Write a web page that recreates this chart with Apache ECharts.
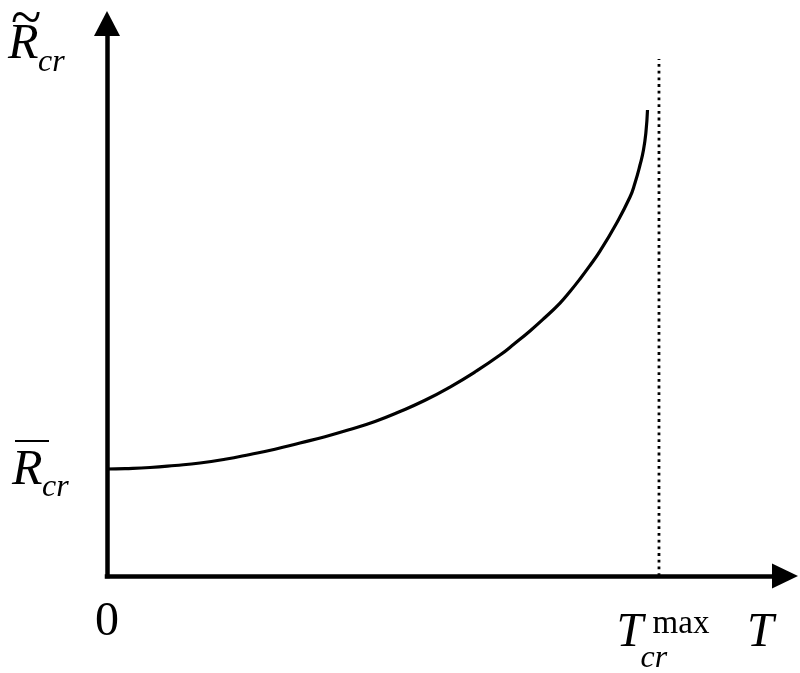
<!DOCTYPE html>
<html>
<head>
<meta charset="utf-8">
<script src="https://cdn.jsdelivr.net/npm/echarts@6/dist/echarts.min.js"></script>
<style>
html,body{margin:0;padding:0;background:#fff;}
#chart{width:800px;height:673px;}
</style>
</head>
<body>
<div id="chart"></div>
<script>
// Curve: T (normalised so that T_cr^max = 1) and R (normalised so that R̄_cr = 1)
var tValues = [0, 0.0326, 0.0779, 0.1232, 0.1685, 0.2138, 0.2591, 0.3043, 0.3496, 0.3949, 0.4402, 0.4855, 0.5308, 0.5761, 0.6214, 0.6667, 0.7120, 0.7391, 0.7663, 0.7935, 0.8207, 0.8388, 0.8569, 0.8750, 0.8931, 0.9203, 0.9475, 0.9565, 0.9656, 0.9719, 0.9764, 0.9792];
var rValues = [1.000, 1.004, 1.014, 1.033, 1.056, 1.091, 1.136, 1.185, 1.243, 1.302, 1.369, 1.444, 1.537, 1.642, 1.766, 1.907, 2.065, 2.175, 2.290, 2.416, 2.551, 2.659, 2.776, 2.902, 3.037, 3.271, 3.542, 3.673, 3.841, 3.981, 4.150, 4.355];
// Vertical dotted asymptote at T = T_cr^max
var asymptoteT = [1, 1];
var asymptoteR = [0, 4.832];
// Tick positions and labels
var xTickValues = [0, 1];
var yTickValues = [1];
var xTickLabels = ['0', 'T_cr^max'];
var yTickLabels = ['R̄_cr'];
var xAxisName = 'T';
var yAxisName = 'R̃_cr';

var curveData = tValues.map(function (t, i) { return [t, rValues[i]]; });
var asymData = asymptoteT.map(function (t, i) { return [t, asymptoteR[i]]; });

var SERIF = '"Liberation Serif", "Times New Roman", serif';
var chart = echarts.init(document.getElementById('chart'));

var option = {
  backgroundColor: '#ffffff',
  animation: false,
  grid: { left: 107, right: 15, top: 23.5, bottom: 97, containLabel: false, outerBoundsMode: 'none' },
  xAxis: {
    type: 'value',
    min: 0,
    max: 1.2283,
    name: xAxisName,
    nameLocation: 'end',
    nameGap: -38,
    nameMoveOverlap: false,
    nameTextStyle: {
      fontFamily: SERIF, fontStyle: 'italic', fontSize: 48, color: '#000',
      align: 'left', verticalAlign: 'top', lineHeight: 40, padding: [37.8, 0, 0, 0]
    },
    axisLine: {
      show: true, onZero: true,
      symbol: ['none', 'triangle'], symbolSize: [25, 26],
      lineStyle: { color: '#000', width: 4.5, cap: 'square' }
    },
    axisTick: { show: false },
    splitLine: { show: false },
    axisLabel: {
      customValues: xTickValues,
      margin: 26,
      verticalAlign: 'top',
      align: 'center',
      formatter: function (v) {
        var idx = xTickValues.indexOf(v);
        var s = idx >= 0 ? xTickLabels[idx] : '';
        if (s === 'T_cr^max') {
          return '{lead| }{T|T}{sub|cr}{sup|max}';
        }
        return '{zero|' + s + '}';
      },
      rich: {
        zero: { fontFamily: SERIF, fontSize: 48, lineHeight: 40, color: '#000', align: 'left' },
        lead: { fontSize: 10, width: 8, lineHeight: 40, align: 'left' },
        T: { fontFamily: SERIF, fontStyle: 'italic', fontSize: 48, lineHeight: 40, width: 24, color: '#000', align: 'left', padding: [23.6, 0, 0, 0] },
        sub: { fontFamily: SERIF, fontStyle: 'italic', fontSize: 32, lineHeight: 40, width: 12, color: '#000', align: 'left', padding: [72.4, 0, 0, 0] },
        sup: { fontFamily: SERIF, fontSize: 33, lineHeight: 40, color: '#000', align: 'left', padding: [4.4, 0, 0, 0] }
      }
    }
  },
  yAxis: {
    type: 'value',
    min: 0,
    max: 5.1636,
    name: '{sp| }{tl|~}\n{R|R}{sub|cr}',
    nameLocation: 'end',
    nameGap: 24,
    nameMoveOverlap: false,
    nameTextStyle: {
      align: 'right', verticalAlign: 'top', padding: [0, 39, 0, 0],
      rich: {
        sp: { fontSize: 10, width: 3, lineHeight: 25, align: 'left' },
        tl: { fontFamily: SERIF, fontSize: 56, lineHeight: 25, color: '#000', align: 'left', padding: [18, 0, 0, 0] },
        R: { fontFamily: SERIF, fontStyle: 'italic', fontSize: 50, lineHeight: 40, width: 30, color: '#000', align: 'left' },
        sub: { fontFamily: SERIF, fontStyle: 'italic', fontSize: 32, lineHeight: 40, width: 30, color: '#000', align: 'left', padding: [36.2, 0, 0, 0] }
      }
    },
    axisLine: {
      show: true, onZero: true,
      symbol: ['none', 'triangle'], symbolSize: [26, 25],
      lineStyle: { color: '#000', width: 4.5, cap: 'square' }
    },
    axisTick: { show: false },
    splitLine: { show: false },
    axisLabel: {
      customValues: yTickValues,
      margin: 35,
      align: 'right',
      verticalAlign: 'middle',
      formatter: function (v) {
        var idx = yTickValues.indexOf(v);
        if (idx < 0) return '';
        return '{sp| }{bar| }\n{R|R}{sub|cr}\n{gap| }';
      },
      rich: {
        sp: { fontSize: 10, width: 3, lineHeight: 16, align: 'left' },
        bar: { fontSize: 2, width: 34, height: 2.2, lineHeight: 16, backgroundColor: '#000', align: 'left' },
        R: { fontFamily: SERIF, fontStyle: 'italic', fontSize: 50, lineHeight: 40, width: 30, color: '#000', align: 'left', padding: [4, 0, 0, 0] },
        sub: { fontFamily: SERIF, fontStyle: 'italic', fontSize: 32, lineHeight: 40, width: 30, color: '#000', align: 'left', padding: [38, 0, 0, 0] },
        gap: { fontSize: 10, width: 3, lineHeight: 16, align: 'left' }
      }
    }
  },
  series: [
    {
      name: 'curve',
      type: 'line',
      data: curveData,
      smooth: 0.5,
      showSymbol: false,
      symbol: 'none',
      lineStyle: { color: '#000', width: 3.2 },
      z: 3
    },
    {
      name: 'asymptote',
      type: 'line',
      data: asymData,
      showSymbol: false,
      symbol: 'none',
      lineStyle: { color: '#000', width: 2.8, type: [2.8, 3.9] },
      z: 2
    }
  ]
};
chart.setOption(option);
</script>
</body>
</html>
